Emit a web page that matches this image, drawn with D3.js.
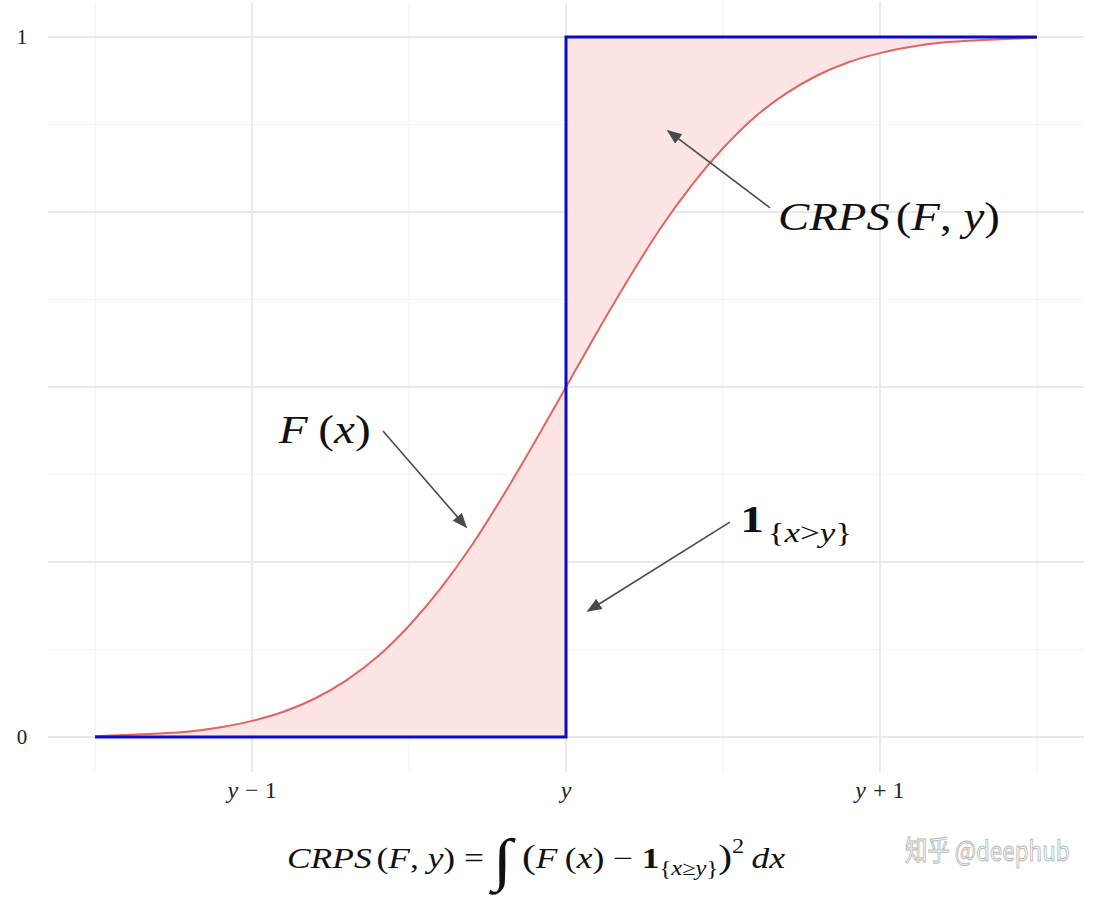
<!DOCTYPE html>
<html>
<head>
<meta charset="utf-8">
<script src="https://cdn.jsdelivr.net/npm/d3@7"></script>
<style>
  html, body { margin: 0; padding: 0; background: #ffffff; }
  svg { display: block; }
  .math { font-family: "Liberation Serif", "DejaVu Serif", serif; }
</style>
</head>
<body>
<svg id="chart" width="1100" height="900"></svg>
<script>
// ---- data ----
// F(x): values of the predictive CDF read at x = y-1.5 ... y+1.5 in steps of 0.1
const cdfX = [-1.5,-1.4,-1.3,-1.2,-1.1,-1.0,-0.9,-0.8,-0.7,-0.6,-0.5,-0.4,-0.3,-0.2,-0.1,0,
              0.1,0.2,0.3,0.4,0.5,0.6,0.7,0.8,0.9,1.0,1.1,1.2,1.3,1.4,1.5];
const cdfY = [0.001,0.003,0.005,0.008,0.014,0.023,0.036,0.055,0.081,0.115,0.159,0.212,0.274,0.345,0.421,0.5,
              0.579,0.655,0.726,0.788,0.841,0.885,0.919,0.945,0.964,0.977,0.986,0.992,0.995,0.997,0.999];
// indicator 1{x>=y}
const stepX = [-1.5, 0, 0, 1.5];
const stepY = [0, 0, 1, 1];
// axis ticks
const xMajor = [-1, 0, 1];
const xMajorLabels = ["y−1", "y", "y+1"];
const xMinor = [-1.5, -0.5, 0.5, 1.5];
const yMajor = [0, 0.25, 0.5, 0.75, 1];
const yLabels = ["0", "", "", "", "1"];
const yMinor = [0.125, 0.375, 0.625, 0.875];
// annotation arrows: start / end points in data units
const arrowStart = [[0.650, 0.756], [-0.583, 0.437], [0.522, 0.307]];
const arrowEnd   = [[0.325, 0.866], [-0.318, 0.300], [0.070, 0.180]];

// ---- layout ----
const svg = d3.select("#chart");
const x = d3.scaleLinear().domain([-1.65, 1.65]).range([48, 1084]);
const y = d3.scaleLinear().domain([-0.05, 1.05]).range([772, 2]);

// grid
const grid = svg.append("g");
grid.selectAll("line.vmin").data(xMinor).join("line")
  .attr("x1", d => x(d)).attr("x2", d => x(d)).attr("y1", y.range()[1]).attr("y2", y.range()[0])
  .attr("stroke", "#f3f3f3").attr("stroke-width", 1.2);
grid.selectAll("line.hmin").data(yMinor).join("line")
  .attr("y1", d => y(d)).attr("y2", d => y(d)).attr("x1", x.range()[0]).attr("x2", x.range()[1])
  .attr("stroke", "#f4f4f4").attr("stroke-width", 1.2);
grid.selectAll("line.vmaj").data(xMajor).join("line")
  .attr("x1", d => x(d)).attr("x2", d => x(d)).attr("y1", y.range()[1]).attr("y2", y.range()[0])
  .attr("stroke", "#e9e9e9").attr("stroke-width", 1.8);
grid.selectAll("line.hmaj").data(yMajor).join("line")
  .attr("y1", d => y(d)).attr("y2", d => y(d)).attr("x1", x.range()[0]).attr("x2", x.range()[1])
  .attr("stroke", "#e9e9e9").attr("stroke-width", 1.8);

// shaded CRPS area between F and indicator
const pts = cdfX.map((v, i) => ({x: v, f: cdfY[i]}));
const left = pts.filter(d => d.x <= 0);
const right = pts.filter(d => d.x >= 0);
const areaL = d3.area().curve(d3.curveMonotoneX).x(d => x(d.x)).y0(() => y(0)).y1(d => y(d.f));
const areaR = d3.area().curve(d3.curveMonotoneX).x(d => x(d.x)).y0(() => y(1)).y1(d => y(d.f));
svg.append("path").datum(left).attr("d", areaL).attr("fill", "#fde5e5");
svg.append("path").datum(right).attr("d", areaR).attr("fill", "#fde5e5");

// F(x) curve
svg.append("path").datum(pts)
  .attr("d", d3.line().curve(d3.curveMonotoneX).x(d => x(d.x)).y(d => y(d.f)))
  .attr("fill", "none").attr("stroke", "#e2645e").attr("stroke-width", 2);

// indicator step
svg.append("path").datum(stepX.map((v, i) => [v, stepY[i]]))
  .attr("d", d3.line().x(d => x(d[0])).y(d => y(d[1])))
  .attr("fill", "none").attr("stroke", "#0a0ac8").attr("stroke-width", 3)
  .attr("stroke-linejoin", "miter");

// axis labels
svg.selectAll("text.ylab").data(yMajor.filter((d, i) => yLabels[i] !== "")).join("text")
  .attr("class", "math").attr("x", 22).attr("y", d => y(d)).attr("dy", "0.35em")
  .attr("text-anchor", "middle").attr("font-size", 21).attr("fill", "#222")
  .text(d => yLabels[yMajor.indexOf(d)]);

const xl = svg.selectAll("text.xlab").data(xMajor).join("text")
  .attr("class", "math").attr("x", d => x(d)).attr("y", 798)
  .attr("text-anchor", "middle").attr("font-size", 24).attr("fill", "#222");
xl.each(function(d, i) {
  const t = d3.select(this);
  const s = xMajorLabels[i];
  t.append("tspan").attr("font-style", "italic").text("y");
  if (s.length > 1) {
    t.append("tspan").attr("dx", 7).text(s[1]);
    t.append("tspan").attr("dx", 6).text(s.slice(2));
  }
});

// arrows
const defs = svg.append("defs");
defs.append("marker").attr("id", "ah").attr("viewBox", "0 0 10 10")
  .attr("refX", 9).attr("refY", 5).attr("markerWidth", 15).attr("markerHeight", 15)
  .attr("markerUnits", "userSpaceOnUse").attr("orient", "auto")
  .append("path").attr("d", "M0,1 L10,5 L0,9 Z").attr("fill", "#4a4a4a");
svg.selectAll("line.arrow").data(arrowStart).join("line")
  .attr("x1", d => x(d[0])).attr("y1", d => y(d[1]))
  .attr("x2", (d, i) => x(arrowEnd[i][0])).attr("y2", (d, i) => y(arrowEnd[i][1]))
  .attr("stroke", "#4a4a4a").attr("stroke-width", 1.6).attr("marker-end", "url(#ah)");

// annotation: CRPS(F, y)
const a1 = svg.append("text").attr("class", "math").attr("x", x(0.675)).attr("y", y(0.724))
  .attr("font-size", 40).attr("fill", "#111")
  .attr("textLength", 222).attr("lengthAdjust", "spacingAndGlyphs");
a1.append("tspan").attr("font-style", "italic").text("CRPS");
a1.append("tspan").attr("dx", 5).text("(");
a1.append("tspan").attr("font-style", "italic").text("F");
a1.append("tspan").text(", ");
a1.append("tspan").attr("font-style", "italic").text("y");
a1.append("tspan").text(")");

// annotation: F(x)
const a2 = svg.append("text").attr("class", "math").attr("x", x(-0.915)).attr("y", y(0.42))
  .attr("font-size", 40).attr("fill", "#111")
  .attr("textLength", 92).attr("lengthAdjust", "spacingAndGlyphs");
a2.append("tspan").attr("font-style", "italic").text("F");
a2.append("tspan").attr("dx", 9).text("(");
a2.append("tspan").attr("font-style", "italic").text("x");
a2.append("tspan").text(")");

// annotation: 1_{x>y}
const a3 = svg.append("text").attr("class", "math").attr("x", x(0.555)).attr("y", y(0.293))
  .attr("font-size", 38).attr("fill", "#111")
  .attr("textLength", 112).attr("lengthAdjust", "spacingAndGlyphs");
a3.append("tspan").attr("font-weight", "bold").text("1");
const sub = a3.append("tspan").attr("dy", 10).attr("dx", 3).attr("font-size", 28);
sub.append("tspan").text("{");
sub.append("tspan").attr("font-style", "italic").text("x");
sub.append("tspan").text(">");
sub.append("tspan").attr("font-style", "italic").text("y");
sub.append("tspan").text("}");

// bottom formula
const f = svg.append("text").attr("class", "math").attr("x", 287).attr("y", 868)
  .attr("font-size", 29).attr("fill", "#111")
  .attr("textLength", 498).attr("lengthAdjust", "spacingAndGlyphs");
f.append("tspan").attr("font-style", "italic").text("CRPS");
f.append("tspan").attr("dx", 4).text("(");
f.append("tspan").attr("font-style", "italic").text("F");
f.append("tspan").text(", ");
f.append("tspan").attr("font-style", "italic").text("y");
f.append("tspan").text(") = ");
f.append("tspan").attr("font-size", 58).attr("dy", 11).attr("font-style", "italic").text("∫");
f.append("tspan").attr("dy", -11).attr("dx", 8).attr("font-size", 34).text("(");
f.append("tspan").attr("font-style", "italic").text("F");
f.append("tspan").attr("dx", 6).text("(");
f.append("tspan").attr("font-style", "italic").text("x");
f.append("tspan").text(") − ");
f.append("tspan").attr("font-weight", "bold").text("1");
const fs = f.append("tspan").attr("dy", 7).attr("font-size", 20);
fs.append("tspan").text("{");
fs.append("tspan").attr("font-style", "italic").text("x");
fs.append("tspan").text("≥");
fs.append("tspan").attr("font-style", "italic").text("y");
fs.append("tspan").text("}");
f.append("tspan").attr("dy", -7).attr("font-size", 34).text(")");
f.append("tspan").attr("dy", -15).attr("font-size", 20).text("2");
f.append("tspan").attr("dy", 15).attr("dx", 6).attr("font-style", "italic").text("dx");

// watermark (narrow, embossed look)
svg.append("g").attr("transform", "translate(905,861) scale(0.8,1)")
  .append("text").attr("x", 0).attr("y", 0).attr("font-size", 28)
  .attr("font-family", "'Noto Sans CJK SC', 'Noto Sans', sans-serif")
  .attr("fill", "#ffffff").attr("stroke", "#b8b8b8").attr("stroke-width", 1)
  .text("知乎 @deephub");
</script>
</body>
</html>
